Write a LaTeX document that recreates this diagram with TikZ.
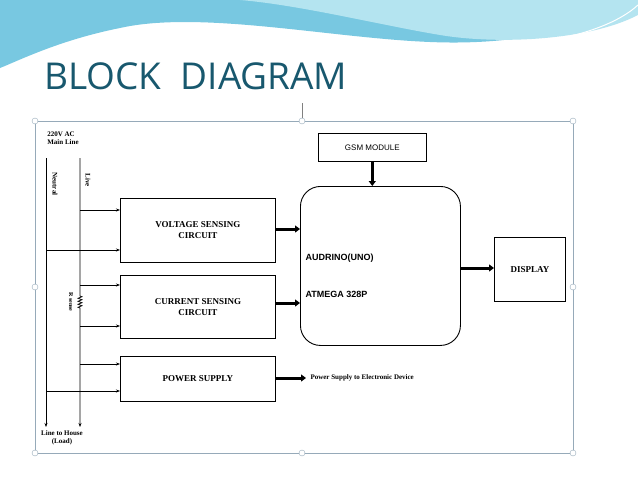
\documentclass[tikz,border=0pt]{standalone}
\usepackage{fontspec}
\setmainfont{Liberation Serif}
\newfontfamily\sansf{Liberation Sans}
\newfontfamily\titlef{Open Sans}
\usetikzlibrary{arrows.meta,decorations.pathmorphing}
\definecolor{titlec}{RGB}{24,88,110}
\definecolor{wave1}{RGB}{120,200,225}
\definecolor{wave2}{RGB}{180,228,240}
\definecolor{framec}{RGB}{150,170,185}
\begin{document}
\begin{tikzpicture}[x=1pt,y=-1pt,
  blk/.style={draw,line width=0.9pt,font=\bfseries\fontsize{9}{11}\selectfont,align=center,anchor=north west},
  thin/.style={-{Stealth[length=4pt]},line width=0.7pt},
  thick/.style={-{Triangle[length=5pt,width=7pt]},line width=3pt},
  handle/.style={circle,draw=framec,fill=white,inner sep=0pt,minimum size=6pt}]
\useasboundingbox (0,0) rectangle (638,479);
\fill[white] (0,0) rectangle (638,479);
% background waves
\fill[wave1] (0,0) -- (638,0) -- (638,10) .. controls (560,35) and (500,45) .. (430,42) .. controls (330,38) and (200,10) .. (120,28) .. controls (60,40) and (20,60) .. (0,68) -- cycle;
\fill[wave2] (240,0) -- (638,0) -- (638,15) .. controls (590,40) and (500,45) .. (440,35) .. controls (380,25) and (300,5) .. (240,0) -- cycle;
\draw[white,line width=1pt] (0,70) .. controls (100,35) and (250,30) .. (400,45) .. controls (500,55) and (600,40) .. (638,5);
\node[text=titlec,font=\titlef\fontsize{37}{40}\selectfont,anchor=west,inner sep=0pt] (title) at (44,76) {BLOCK\ \ DIAGRAM};
\draw[gray] (302,103) -- (302,118);
% frame
\draw[framec,line width=0.8pt] (35,121) rectangle (573,453);
\foreach \p [count=\i] in {(35,121),(302,121),(573,121),(35,287),(573,287),(35,453),(302,453),(573,453)}
  \node[handle] (h\i) at \p {};
% main lines
\node[font=\bfseries\fontsize{7}{8}\selectfont,align=left] (ac) at (63,138) {220V AC\\Main Line};
\coordinate (nt) at (46,158); \coordinate (nb) at (46,427);
\coordinate (lt) at (80,158); \coordinate (lb) at (80,427);
\draw[thin] (nt) -- (nb);
\draw[thin] (lt) -- (80,296) decorate[decoration={zigzag,segment length=3pt,amplitude=2pt}]{-- (80,308)} -- (lb);
\node[rotate=-90,font=\bfseries\fontsize{7}{8}\selectfont] (neu) at (55,184) {Neutral};
\node[rotate=-90,font=\bfseries\fontsize{7}{8}\selectfont] (live) at (88,180) {Live};
\node[rotate=-90,font=\bfseries\fontsize{6}{7}\selectfont] (rs) at (71,302) {R sense};
\node[font=\bfseries\fontsize{7}{8}\selectfont,align=center] (load) at (62,438) {Line to House\\(Load)};
% blocks
\node[blk,minimum width=155pt,minimum height=64pt] (vs) at (120,198) {VOLTAGE SENSING\\CIRCUIT};
\node[blk,minimum width=155pt,minimum height=63pt] (cs) at (120,275) {CURRENT SENSING\\CIRCUIT};
\node[blk,minimum width=155pt,minimum height=45pt] (ps) at (120,356) {POWER SUPPLY};
\draw[thin] (80,210) -- (vs.west|-0,210);
\draw[thin] (46,250) -- (vs.west|-0,250);
\draw[thin] (80,285) -- (cs.west|-0,285);
\draw[thin] (80,326) -- (cs.west|-0,326);
\draw[thin] (80,364) -- (ps.west|-0,364);
\draw[thin] (46,391) -- (ps.west|-0,391);
% arduino
\node[draw,line width=0.9pt,rounded corners=20pt,minimum width=160pt,minimum height=159pt,anchor=north west] (ard) at (300,186) {};
\node[font=\sansf\bfseries\fontsize{9}{11}\selectfont,anchor=west] (uno) at (302,258) {AUDRINO(UNO)};
\node[font=\sansf\bfseries\fontsize{9}{11}\selectfont,anchor=west] (atm) at (302,294) {ATMEGA 328P};
\node[draw,line width=0.6pt,font=\sansf\fontsize{8}{10}\selectfont,minimum width=108pt,minimum height=28pt,anchor=north west] (gsm) at (318,133) {GSM MODULE};
\node[blk,minimum width=71pt,minimum height=64pt] (disp) at (494,237) {DISPLAY};
\draw[thick] (vs.east|-0,229) -- (ard.west|-0,229);
\draw[thick] (cs.east|-0,303) -- (ard.west|-0,303);
\draw[thick] (gsm.south) -- (ard.north-|gsm.south);
\draw[thick] (ard.east|-0,268) -- (disp.west|-0,268);
\coordinate (pse) at (306,378);
\draw[thick] (ps.east|-0,378) -- (pse);
\node[font=\bfseries\fontsize{7}{8}\selectfont,anchor=west] (pstext) at (307,378) {Power Supply to Electronic Device};
\end{tikzpicture}
\end{document}
